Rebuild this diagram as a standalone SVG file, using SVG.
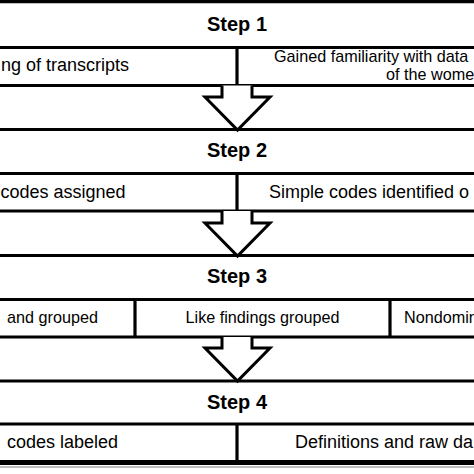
<svg xmlns="http://www.w3.org/2000/svg" width="474" height="474" viewBox="0 0 474 474">
  <style>
    .rule { stroke: #000; stroke-width: 3; fill: none; }
    .edge { stroke: #000; stroke-width: 3.5; fill: none; }
    .div { stroke: #000; stroke-width: 3.2; fill: none; }
    .title { font-family: "Liberation Sans", Arial, sans-serif; font-weight: bold; font-size: 20px; text-anchor: middle; fill: #000; }
    .cell { font-family: "Liberation Sans", Arial, sans-serif; font-size: 18px; fill: #000; }
    .cell-s { font-family: "Liberation Sans", Arial, sans-serif; font-size: 16.2px; fill: #000; }
    .arrow { stroke: #000; stroke-width: 3; fill: #fff; stroke-linejoin: miter; }
  </style>
  <rect width="474" height="474" fill="#fff"/>

  <!-- Step 1 -->
  <g id="step1">
    <line class="edge" x1="0" y1="1.5" x2="474" y2="1.5"/>
    <text class="title" x="237" y="31">Step 1</text>
    <line class="rule" x1="0" y1="47.5" x2="474" y2="47.5"/>
    <line class="rule" x1="0" y1="85.5" x2="474" y2="85.5"/>
    <line class="div" x1="237" y1="47.5" x2="237" y2="85.5"/>
    <text class="cell" x="1" y="71">ng of transcripts</text>
    <text class="cell-s" x="274" y="62">Gained familiarity with data</text>
    <text class="cell-s" x="386" y="80">of the wome</text>
  </g>

  <!-- Step 2 -->
  <g id="step2">
    <line class="rule" x1="0" y1="129.5" x2="474" y2="129.5"/>
    <text class="title" x="237" y="157">Step 2</text>
    <line class="rule" x1="0" y1="173.5" x2="474" y2="173.5"/>
    <line class="rule" x1="0" y1="211" x2="474" y2="211"/>
    <line class="div" x1="237" y1="173.5" x2="237" y2="211"/>
    <text class="cell" x="0.5" y="198">codes assigned</text>
    <text class="cell" x="269" y="198">Simple codes identified o</text>
  </g>

  <!-- Step 3 -->
  <g id="step3">
    <line class="rule" x1="0" y1="255.5" x2="474" y2="255.5"/>
    <text class="title" x="237" y="283">Step 3</text>
    <line class="rule" x1="0" y1="299.5" x2="474" y2="299.5"/>
    <line class="rule" x1="0" y1="337" x2="474" y2="337"/>
    <line class="div" x1="135" y1="299.5" x2="135" y2="337"/>
    <line class="div" x1="390" y1="299.5" x2="390" y2="337"/>
    <text class="cell-s" x="7" y="323">and grouped</text>
    <text class="cell-s" x="262.5" y="323" text-anchor="middle">Like findings grouped</text>
    <text class="cell-s" x="404" y="323">Nondomin</text>
  </g>

  <!-- Step 4 -->
  <g id="step4">
    <line class="rule" x1="0" y1="381" x2="474" y2="381"/>
    <text class="title" x="237" y="409">Step 4</text>
    <line class="rule" x1="0" y1="424" x2="474" y2="424"/>
    <line x1="0" y1="467" x2="474" y2="467" stroke="#bdbdbd" stroke-width="2"/>
    <line x1="0" y1="462.5" x2="474" y2="462.5" stroke="#000" stroke-width="5"/>
    <line class="div" x1="237" y1="424" x2="237" y2="461"/>
    <text class="cell" x="7" y="448">codes labeled</text>
    <text class="cell" x="295" y="448">Definitions and raw da</text>
  </g>

  <!-- Block arrows between steps -->
  <g id="connectors">
    <path class="arrow" d="M222,85.5 V97 H205 L237.5,130 L270,97 H252 V85.5"/>
    <path class="arrow" d="M222,211 V223 H205 L237.5,256 L270,223 H252 V211"/>
    <path class="arrow" d="M222,337 V348 H205 L237.5,381 L270,348 H252 V337"/>
  </g>
</svg>
